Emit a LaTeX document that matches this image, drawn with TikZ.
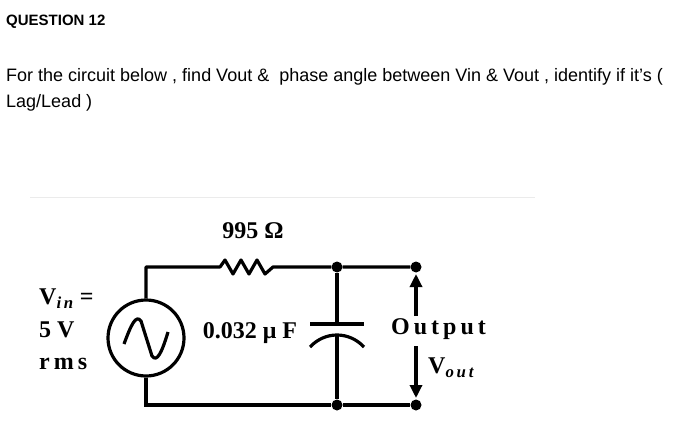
\documentclass[tikz,border=0pt]{standalone}
\usepackage{fontspec}
\setmainfont{Liberation Sans}
\newfontfamily\ser{Liberation Serif}
\usetikzlibrary{arrows.meta}
\begin{document}
\begin{tikzpicture}[x=1pt,y=-1pt,
  w/.style={line width=3.2pt},
  dot/.style={circle,fill=black,inner sep=0pt,minimum size=11pt},
  lab/.style={font=\ser\bfseries\fontsize{24}{26}\selectfont,inner sep=0pt},
  txt/.style={anchor=west,inner sep=0pt,font=\fontsize{18}{21}\selectfont}]
\useasboundingbox[fill=white] (0,0) rectangle (700,430);
\node[txt,font=\bfseries\fontsize{15}{18}\selectfont] (q) at (6,22) {QUESTION 12};
\node[txt] (t1) at (6,77) {For the circuit below , find Vout \&\ \ phase angle between Vin \& Vout , identify if it's (};
\node[txt] (t2) at (6,103) {Lag/Lead )};
\draw[black!8] (30,197) -- (535,197);
% nodes
\coordinate (tl) at (146,267);
\coordinate (bl) at (146,405);
\node[circle,draw,w,minimum size=76pt,inner sep=0pt] (src) at (146,338) {};
\coordinate (r1) at (220,267);
\coordinate (r2) at (278,267);
\node[dot] (jt) at (337,267) {};
\node[dot] (jb) at (337,405) {};
\node[dot] (ot) at (416,267) {};
\node[dot] (ob) at (416,405) {};
\coordinate (c1) at (337,324);
\coordinate (c2) at (337,335);
\draw[w,line join=round] (src.north) -- (tl) -- (r1)
  -- ++(5,-7) -- ++(8,14) -- ++(8,-14) -- ++(8,14) -- ++(8,-14) -- ++(8,14) -- ++(8,-7) -- (r2) -- (jt) -- (ot);
\draw[w] (src.south) -- (bl) -- (jb) -- (ob);
\draw[w] (jt) -- (c1);
\draw[w] (310,324) -- (364,324);
\draw[w] (310,347) .. controls (325,331) and (349,331) .. (364,347);
\draw[w] (c2) -- (jb);
% sine
\draw[w,line join=round] (124,344) .. controls (131,325) and (136,314) .. (141,321) -- (152,356) .. controls (157,363) and (162,352) .. (168,332);
% arrows
\draw[w,-{Triangle[length=13pt,width=12pt]}] (416,316) -- (416,274);
\draw[w,-{Triangle[length=13pt,width=12pt]}] (416,346) -- (416,398);
% labels
\node[lab] (lr) at (253,231) {995 Ω};
\node[lab] (lc) at (250,333) {0.032 μ F};
\node[lab,anchor=west] (lo) at (391,329) {O\,u\,t\,p\,u\,t};
\node[lab,anchor=west] (lv) at (428,368) {V\textsubscript{\textit{o\,u\,t}}};
\node[lab,anchor=west] (l1) at (39,299) {V\textsubscript{\textit{i\,n}} =};
\node[lab,anchor=west] (l2) at (39,330) {5 V};
\node[lab,anchor=west] (l3) at (39,364) {r\,m\,s};
\end{tikzpicture}
\end{document}
